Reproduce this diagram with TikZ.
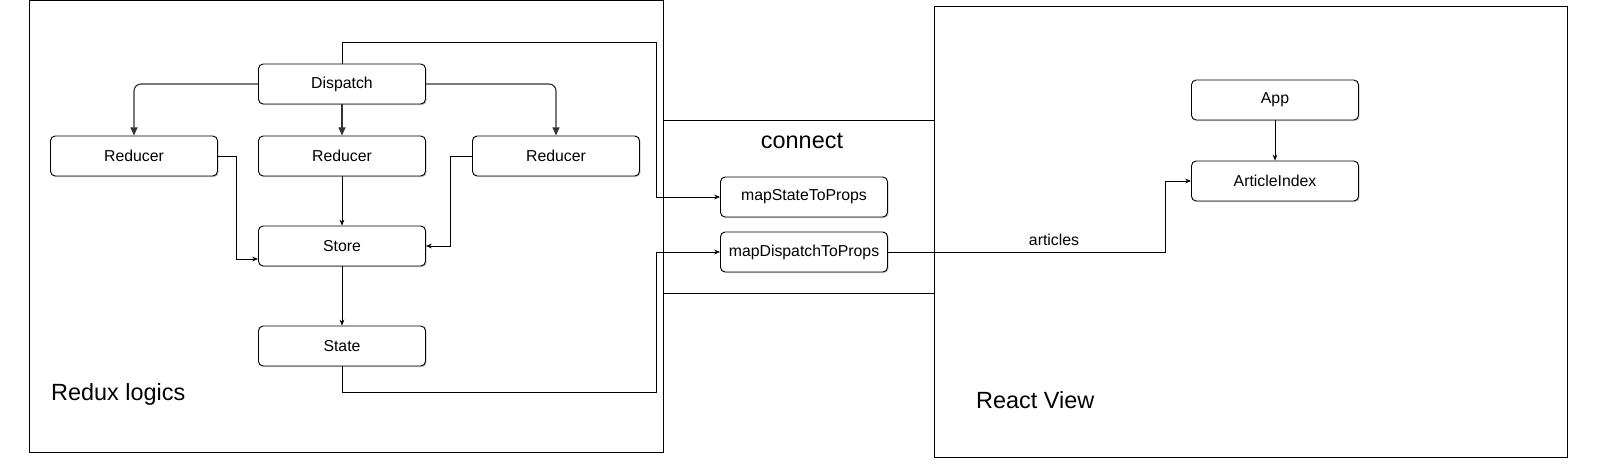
\documentclass[tikz,border=0pt]{standalone}
\usepackage{fontspec}
\setmainfont{Liberation Sans}
\usetikzlibrary{arrows.meta,shadows}
\begin{document}
\begin{tikzpicture}[x=0.03cm,y=-0.03cm,
  box/.style={draw,thick,rounded corners=4pt,minimum width=167*0.03cm,minimum height=40*0.03cm,fill=white,
    drop shadow={shadow xshift=1pt,shadow yshift=-1pt,opacity=0.4},font=\fontsize{13.5}{15}\selectfont},
  frame/.style={draw,line width=0.8pt},
  ln/.style={draw,line width=0.6pt,-{Stealth[length=5pt,width=4pt]}},
  gl/.style={draw,line width=1pt,gray!40!black,rounded corners=6pt,-{Triangle[length=7pt,width=6pt]}},
  big/.style={font=\fontsize{20}{23}\selectfont}]
\draw[frame] (29,0) rectangle (663,452);
\draw[frame] (663,120) rectangle (934,293);
\draw[frame] (934,6) rectangle (1567,457);
\node[box] (dis) at (342,84) {Dispatch};
\node[box] (rl) at (134,156) {Reducer};
\node[box] (rm) at (342,156) {Reducer};
\node[box] (rr) at (556,156) {Reducer};
\node[box] (st) at (342,246) {Store};
\node[box] (sa) at (342,346) {State};
\node[box] (ms) at (804,197) {mapStateToProps};
\node[box] (md) at (804,252) {mapDispatchToProps};
\node[box] (app) at (1275,100) {App};
\node[box] (ai) at (1275,181) {ArticleIndex};
\node[big] (conn) at (802,141) {connect};
\node[big,anchor=west] (rx) at (47,394) {Redux logics};
\node[big,anchor=west] (rv) at (972,400) {React View};
\node[font=\fontsize{13.5}{15}\selectfont] (art) at (1054,240) {articles};
\draw[gl] (dis.west) -| (rl.north);
\draw[gl] (dis.east) -| (rr.north);
\draw[gl] (dis.south) -- (rm.north);
\draw[ln] (rm.south) -- (st.north);
\draw[ln] (st.south) -- (sa.north);
\draw[ln] (rl.east) -- (236,156) |- ([yshift=-13*0.03cm]st.west);
\draw[ln] (rr.west) -- (450,156) |- (st.east);
\draw[ln] (dis.north) -- (342,42) -- (656,42) |- (ms.west);
\draw[ln] (sa.south) -- (342,392) -- (656,392) |- (md.west);
\draw[ln] (md.east) -- (1165,252) |- (ai.west);
\draw[ln] (app.south) -- (ai.north);
\pgfresetboundingbox
\useasboundingbox (0,0) rectangle (1600,467);
\end{tikzpicture}
\end{document}
